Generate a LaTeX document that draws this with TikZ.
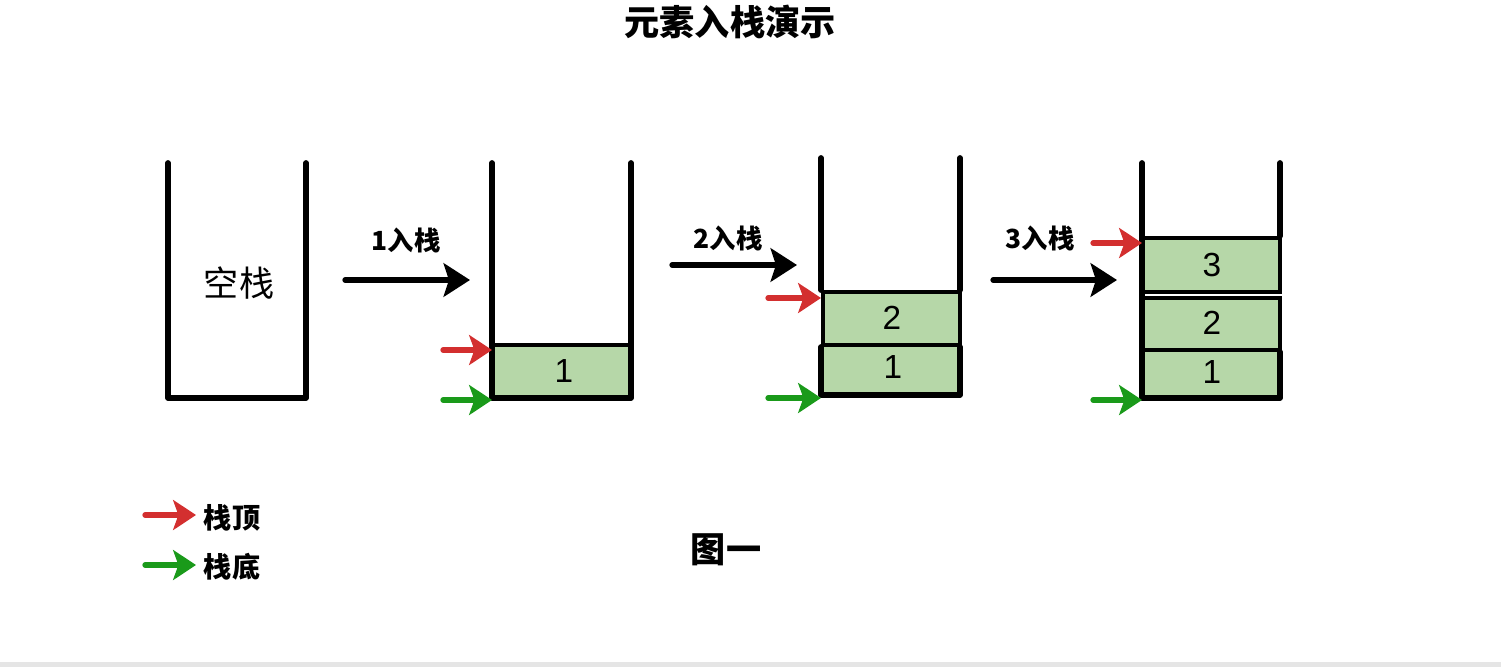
\documentclass[tikz,border=0pt]{standalone}
\usepackage{fontspec}
\newfontfamily\cjk{Noto Sans CJK SC}
\newfontfamily\arial{Liberation Sans}
\usetikzlibrary{arrows.meta}
\definecolor{boxgreen}{HTML}{B6D7A8}
\definecolor{topred}{HTML}{D32F2F}
\definecolor{botgreen}{HTML}{1A9A1A}
\tikzset{
  wall/.style={line width=3.3pt, line cap=round, line join=round},
  edge/.style={line width=2pt},
  push/.style={line width=3pt, line cap=round, -{Stealth[length=15pt,width=19pt,inset=3pt]}},
  ptr/.style={line width=3pt, line cap=round, -{Stealth[length=13pt,width=17pt,inset=3pt]}},
  lbl/.style={font=\cjk\bfseries\fontsize{15}{15}\selectfont},
  big/.style={font=\cjk\fontsize{20}{20}\selectfont},
  num/.style={font=\arial\fontsize{19}{19}\selectfont},
  legend/.style={font=\cjk\bfseries\fontsize{16}{16}\selectfont},
}
\begin{document}
\begin{tikzpicture}[x=0.02cm,y=-0.02cm]
\useasboundingbox (0,0) rectangle (1501,667);
\fill[white] (0,0) rectangle (1501,667);
\fill[black!10] (0,662) rectangle (1501,667);
\node (title) at (730,22) {\cjk\fontsize{20}{20}\selectfont\bfseries 元素入栈演示};
% stack 1
\coordinate (s1tl) at (168,163); \coordinate (s1bl) at (168,398);
\coordinate (s1br) at (306,398); \coordinate (s1tr) at (306,163);
\draw[wall] (s1tl) -- (s1bl) -- (s1br) -- (s1tr);
\node[big] (empty) at (239,283) {空栈};
% push 1
\coordinate (p1a) at (345,280); \coordinate (p1b) at (470,280);
\draw[push] (p1a) -- (p1b);
\node[lbl] (p1l) at (406,240) {1入栈};
% stack 2
\fill[boxgreen] (492,345) rectangle (631,398);
\node[num] (b21) at (564,371) {1};
\draw[edge] (492,345) -- (631,345);
\coordinate (s2tl) at (492,163); \coordinate (s2bl) at (492,398);
\coordinate (s2br) at (631,398); \coordinate (s2tr) at (631,163);
\draw[wall] (s2tl) -- (s2bl) -- (s2br) -- (s2tr);
\coordinate (r2a) at (443,350); \coordinate (r2b) at (492,350);
\draw[ptr, topred] (r2a) -- (r2b);
\coordinate (g2a) at (443,400); \coordinate (g2b) at (492,400);
\draw[ptr, botgreen] (g2a) -- (g2b);
% push 2
\coordinate (p2a) at (672,265); \coordinate (p2b) at (797,265);
\draw[push] (p2a) -- (p2b);
\node[lbl] (p2l) at (728,238) {2入栈};
% stack 3
\fill[boxgreen] (821,347) rectangle (960,395);
\draw[edge, fill=boxgreen] (823,292) rectangle (960,345);
\node[num] (b31) at (893,367) {1};
\node[num] (b32) at (892,318) {2};
\coordinate (s3tl) at (821,158); \coordinate (s3bl) at (821,395);
\coordinate (s3br) at (960,395); \coordinate (s3tr) at (960,158);
\draw[wall] (s3tl) -- (821,290); \draw[wall] (821,347) -- (s3bl) -- (s3br) -- (960,347);
\draw[wall] (s3tr) -- (960,290);
\coordinate (r3a) at (768,298); \coordinate (r3b) at (821,298);
\draw[ptr, topred] (r3a) -- (r3b);
\coordinate (g3a) at (768,398); \coordinate (g3b) at (821,398);
\draw[ptr, botgreen] (g3a) -- (g3b);
% push 3
\coordinate (p3a) at (993,280); \coordinate (p3b) at (1117,280);
\draw[push] (p3a) -- (p3b);
\node[lbl] (p3l) at (1040,238) {3入栈};
% stack 4
\fill[boxgreen] (1142,352) rectangle (1280,398);
\draw[edge, fill=boxgreen] (1143,298) rectangle (1280,350);
\draw[edge, fill=boxgreen] (1143,238) rectangle (1280,292);
\node[num] (b41) at (1212,372) {1};
\node[num] (b42) at (1212,323) {2};
\node[num] (b43) at (1212,265) {3};
\coordinate (s4tl) at (1142,163); \coordinate (s4bl) at (1142,398);
\coordinate (s4br) at (1280,398); \coordinate (s4tr) at (1280,163);
\draw[wall] (s4tl) -- (s4bl) -- (s4br) -- (1280,352);
\draw[wall] (s4tr) -- (1280,236);
\coordinate (r4a) at (1093,243); \coordinate (r4b) at (1142,243);
\draw[ptr, topred] (r4a) -- (r4b);
\coordinate (g4a) at (1093,400); \coordinate (g4b) at (1142,400);
\draw[ptr, botgreen] (g4a) -- (g4b);
% legend
\coordinate (lra) at (145,515); \coordinate (lrb) at (196,515);
\draw[ptr, topred] (lra) -- (lrb);
\node[legend] (ltop) at (232,518) {栈顶};
\coordinate (lga) at (145,565); \coordinate (lgb) at (196,565);
\draw[ptr, botgreen] (lga) -- (lgb);
\node[legend] (lbot) at (232,567) {栈底};
\node[font=\cjk\bfseries\fontsize{20}{20}\selectfont] (fig) at (726,550) {图一};
\end{tikzpicture}
\end{document}
